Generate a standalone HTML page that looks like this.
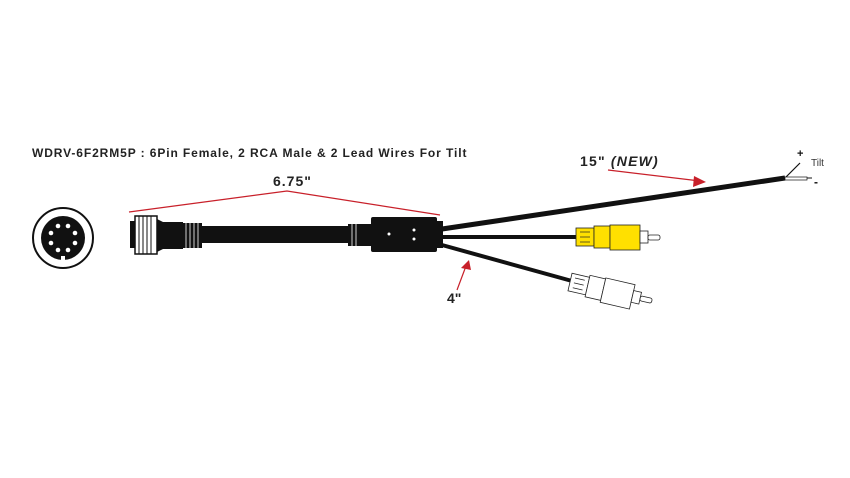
<!DOCTYPE html>
<html><head><style>body{margin:0;background:#fff}svg{display:block}text{font-family:"Liberation Sans",sans-serif}</style></head><body>
<svg width="850" height="478" viewBox="0 0 850 478">
<text x="32" y="157" font-size="12" font-weight="bold" fill="#222" letter-spacing="0.9">WDRV-6F2RM5P : 6Pin Female, 2 RCA Male &amp; 2 Lead Wires For Tilt</text>
<!-- round connector -->
<circle cx="63" cy="238" r="30" fill="#fff" stroke="#111" stroke-width="2"/>
<circle cx="63" cy="238" r="22" fill="#111"/>
<g fill="#fff"><circle cx="58" cy="226" r="2.3"/><circle cx="68" cy="226" r="2.3"/><circle cx="51" cy="233" r="2.3"/><circle cx="75" cy="233" r="2.3"/><circle cx="51" cy="243" r="2.3"/><circle cx="75" cy="243" r="2.3"/><circle cx="58" cy="250" r="2.3"/><circle cx="68" cy="250" r="2.3"/><rect x="61" y="256" width="4" height="4"/></g>
<!-- red bracket -->
<polyline points="129,212 287,191 440,215" fill="none" stroke="#c8202a" stroke-width="1.2"/>
<text x="273" y="186" font-size="14" font-weight="bold" fill="#222" letter-spacing="1">6.75"</text>
<!-- nut -->
<rect x="130" y="221" width="5" height="27" fill="#111"/>
<rect x="135" y="216" width="22" height="38" fill="#fff" stroke="#111" stroke-width="1.5"/>
<g stroke="#111" stroke-width="1"><line x1="139" y1="216" x2="139" y2="254"/><line x1="143" y1="216" x2="143" y2="254"/><line x1="147" y1="216" x2="147" y2="254"/><line x1="151" y1="216" x2="151" y2="254"/></g>
<polygon points="157,219 163,222 183,222 183,249 163,249 157,252" fill="#111"/>
<rect x="183" y="223" width="19" height="25" fill="#111"/>
<g stroke="#fff" stroke-width="0.8"><line x1="186" y1="223" x2="186" y2="248"/><line x1="190" y1="223" x2="190" y2="248"/><line x1="194" y1="223" x2="194" y2="248"/><line x1="198" y1="223" x2="198" y2="248"/></g>
<rect x="202" y="226" width="146" height="17" fill="#111"/>
<rect x="348" y="224" width="24" height="22" fill="#111"/>
<g stroke="#fff" stroke-width="0.8"><line x1="352" y1="224" x2="352" y2="246"/><line x1="356" y1="224" x2="356" y2="246"/></g>
<rect x="371" y="217" width="66" height="35" rx="2" fill="#111"/>
<g fill="#fff"><circle cx="389" cy="234" r="1.5"/><circle cx="414" cy="230" r="1.5"/><circle cx="414" cy="239" r="1.5"/></g>
<rect x="437" y="221" width="6" height="27" fill="#111"/>
<!-- wires -->
<line x1="442" y1="229" x2="785" y2="178" stroke="#111" stroke-width="5"/>
<line x1="442" y1="237" x2="580" y2="237" stroke="#111" stroke-width="4"/>
<line x1="442" y1="245" x2="572" y2="281" stroke="#111" stroke-width="4"/>
<!-- tilt leads -->
<line x1="785" y1="178" x2="800" y2="163" stroke="#111" stroke-width="1.2"/>
<rect x="785" y="177" width="22" height="3" fill="#fff" stroke="#111" stroke-width="0.7"/>
<line x1="807" y1="178" x2="812" y2="178" stroke="#111" stroke-width="1"/>
<text x="797" y="157" font-size="11" font-weight="bold" fill="#111">+</text>
<text x="811" y="166" font-size="10" fill="#333">Tilt</text>
<text x="814" y="186" font-size="12" font-weight="bold" fill="#111">-</text>
<!-- yellow RCA -->
<g>
<rect x="576" y="228" width="18" height="18" fill="#ffe000" stroke="#222" stroke-width="0.8"/>
<g stroke="#222" stroke-width="0.7"><line x1="580" y1="232" x2="590" y2="232"/><line x1="580" y1="237" x2="590" y2="237"/><line x1="580" y1="242" x2="590" y2="242"/></g>
<rect x="594" y="226" width="16" height="22" fill="#ffe000" stroke="#222" stroke-width="0.8"/>
<rect x="610" y="225" width="30" height="25" fill="#ffe000" stroke="#222" stroke-width="0.8"/>
<rect x="640" y="231" width="8" height="12" fill="#fff" stroke="#222" stroke-width="0.8"/>
<rect x="648" y="235" width="12" height="5" rx="2" fill="#fff" stroke="#222" stroke-width="0.8"/>
</g>
<!-- white RCA -->
<g transform="translate(570,282) rotate(13)">
<rect x="0" y="-9" width="18" height="18" fill="#fff" stroke="#222" stroke-width="0.8"/>
<g stroke="#222" stroke-width="0.7"><line x1="4" y1="-5" x2="14" y2="-5"/><line x1="4" y1="0" x2="14" y2="0"/><line x1="4" y1="5" x2="14" y2="5"/></g>
<rect x="18" y="-11" width="16" height="22" fill="#fff" stroke="#222" stroke-width="0.8"/>
<rect x="34" y="-12" width="30" height="25" fill="#fff" stroke="#222" stroke-width="0.8"/>
<rect x="64" y="-6" width="8" height="12" fill="#fff" stroke="#222" stroke-width="0.8"/>
<rect x="72" y="-2.5" width="12" height="5" rx="2" fill="#fff" stroke="#222" stroke-width="0.8"/>
</g>
<!-- red arrows -->
<line x1="608" y1="170" x2="700" y2="181" stroke="#c8202a" stroke-width="1.2"/>
<polygon points="706,182 694,176 693,187" fill="#c8202a"/>
<text x="580" y="166" font-size="14" font-weight="bold" fill="#222" letter-spacing="1.2">15" <tspan font-style="italic">(NEW)</tspan></text>
<line x1="457" y1="290" x2="466" y2="266" stroke="#c8202a" stroke-width="1.2"/>
<polygon points="469,260 461,268 471,270" fill="#c8202a"/>
<text x="447" y="303" font-size="14" font-weight="bold" fill="#222">4"</text>
</svg>
</body></html>
